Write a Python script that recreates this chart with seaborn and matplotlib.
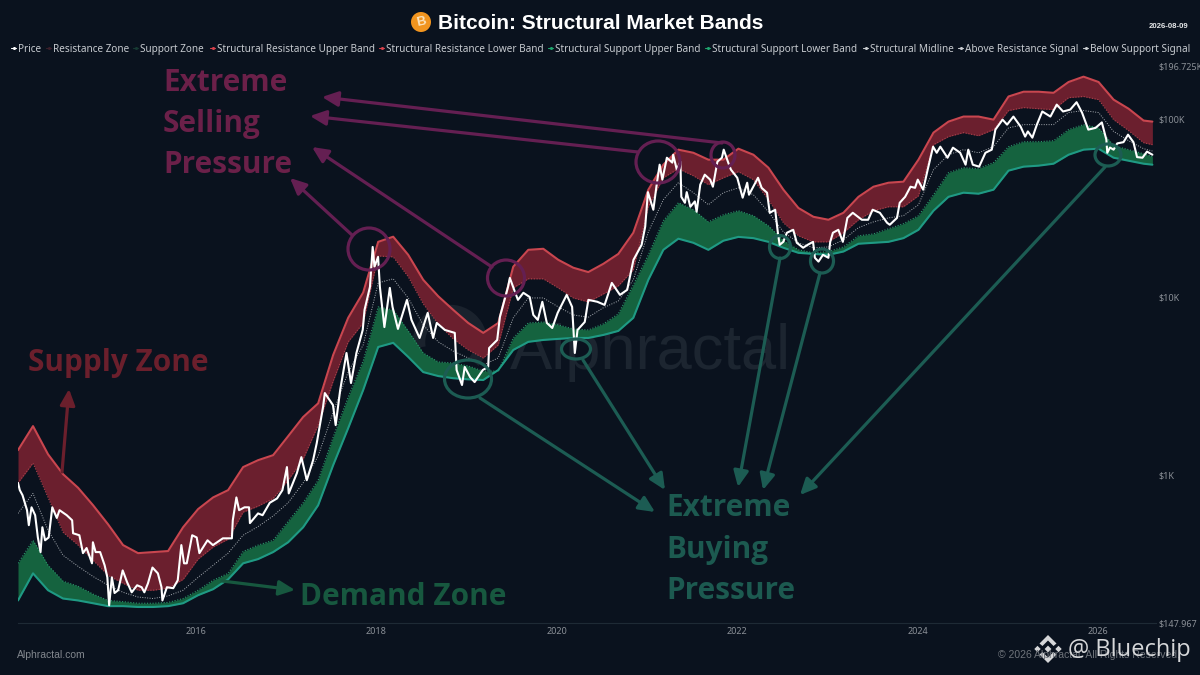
import matplotlib
matplotlib.use('Agg')
import matplotlib.pyplot as plt
from matplotlib.patches import Ellipse, Polygon, Arc, Circle
import numpy as np
import seaborn as sns

# 1. Data
band_years = np.append(2014.03 + np.arange(76) * 0.1663, 2026.60)

res_upper = [1382, 1885, 1310, 1013, 850, 678, 530, 405, 365, 370,
             375, 510, 645, 750, 824, 1110, 1214, 1295, 1655, 2120,
             2530, 4727, 7640, 10600, 20400, 21800, 17250, 12490, 10100, 8466,
             7150, 6290, 7150, 14800, 18400, 18650, 16170, 14600, 13800, 15350,
             17450, 22950, 40030, 55300, 67150, 64500, 59000, 59000, 68000, 62900,
             53200, 40030, 31600, 28200, 27140, 29700, 36500, 41600, 43800, 44400,
             59000, 83700, 96500, 103000, 103000, 99000, 133500, 142000, 142000, 140000,
             161000, 172500, 161000, 128200, 114000, 97800, 96500]

res_lower = [905, 1168, 750, 478, 405, 333, 274, 247, 226, 226,
             232, 260, 338, 395, 437, 620, 670, 740, 937, 1230,
             1910, 3370, 5600, 7150, 17000, 16800, 13000, 9150, 7060, 5820,
             5044, 4550, 5380, 11240, 12650, 12650, 11240, 9880, 9380, 10400,
             11550, 14200, 32100, 46700, 52500, 47900, 42700, 46700, 50500, 45570,
             35160, 26100, 22050, 20400, 20400, 22950, 27140, 30500, 32100, 32100,
             37000, 71600, 79500, 83700, 80400, 87000, 111300, 115700, 114000, 112700,
             131500, 133500, 128200, 99000, 85900, 73500, 71600]

sup_upper = [320, 431, 312, 254, 238, 215, 198, 195, 191, 191,
             193, 203, 226, 257, 281, 373, 405, 431, 550, 700,
             937, 1635, 2740, 4375, 8800, 8466, 6450, 4850, 4320, 4260,
             4100, 3840, 3840, 5890, 7150, 7240, 6971, 6620, 6534, 7060,
             8040, 11700, 17250, 26800, 33800, 30890, 26400, 28950, 30500, 28600,
             25100, 20700, 18400, 17700, 18000, 19100, 22050, 22600, 24150, 25800,
             28600, 37500, 49900, 53200, 52500, 56800, 69800, 74400, 74400, 75400,
             87000, 92800, 89000, 70700, 67150, 63700, 61300]

sup_lower = [198, 281, 226, 203, 198, 191, 184, 184, 182, 182,
             184, 191, 212, 229, 260, 320, 338, 370, 420, 510,
             678, 1138, 1835, 3005, 5240, 5530, 4610, 3790, 3600, 3500,
             3450, 3420, 3893, 5044, 5600, 5741, 5820, 5890, 5890, 6124,
             6450, 7640, 12490, 18400, 21250, 20150, 18400, 20700, 21750, 21400,
             20400, 18900, 17700, 17450, 17250, 18000, 19900, 20150, 20400, 21400,
             23840, 30500, 36500, 38500, 38000, 40030, 51200, 53900, 54600, 56000,
             62900, 67150, 68000, 60500, 58200, 56000, 55300]

midline = [610, 790, 491, 355, 308, 270, 241, 220, 207, 203,
           210, 226, 267, 312, 365, 460, 515, 590, 700, 905,
           1280, 2260, 3790, 5380, 12000, 12650, 9880, 6971, 5600, 4970,
           4550, 4153, 4550, 7640, 9880, 9880, 8800, 7935, 7700, 8700,
           9500, 12490, 23200, 35160, 43800, 38500, 32950, 38500, 41000, 37500,
           30100, 23200, 20150, 18900, 19100, 20950, 24500, 26400, 27800, 28600,
           32950, 51850, 62900, 67150, 64500, 69800, 89000, 92800, 92800, 92800,
           108500, 111300, 108500, 85000, 75400, 68000, 66000]

price_years = [2014.03, 2014.05, 2014.08, 2014.13, 2014.15, 2014.18, 2014.22, 2014.25, 2014.28, 2014.30,
               2014.33, 2014.37, 2014.41, 2014.46, 2014.49, 2014.57, 2014.63, 2014.64, 2014.71, 2014.75,
               2014.79, 2014.85, 2014.86, 2014.89, 2014.94, 2014.99, 2015.02, 2015.04, 2015.07, 2015.10,
               2015.14, 2015.19, 2015.24, 2015.29, 2015.35, 2015.40, 2015.43, 2015.47, 2015.52, 2015.58,
               2015.62, 2015.63, 2015.68, 2015.75, 2015.80, 2015.84, 2015.87, 2015.90, 2015.96, 2016.01,
               2016.04, 2016.13, 2016.19, 2016.30, 2016.40, 2016.41, 2016.45, 2016.48, 2016.54, 2016.59,
               2016.60, 2016.69, 2016.74, 2016.82, 2016.90, 2016.96, 2017.01, 2017.03, 2017.12, 2017.17,
               2017.23, 2017.30, 2017.34, 2017.41, 2017.43, 2017.52, 2017.55, 2017.60, 2017.67, 2017.72,
               2017.78, 2017.85, 2017.87, 2017.93, 2017.96, 2017.98, 2018.02, 2018.04, 2018.09, 2018.15,
               2018.18, 2018.24, 2018.34, 2018.39, 2018.48, 2018.57, 2018.63, 2018.67, 2018.76, 2018.87,
               2018.89, 2018.95, 2018.98, 2019.04, 2019.09, 2019.18, 2019.24, 2019.25, 2019.34, 2019.37,
               2019.46, 2019.48, 2019.54, 2019.57, 2019.63, 2019.70, 2019.74, 2019.79, 2019.84, 2019.89,
               2019.95, 2020.01, 2020.11, 2020.17, 2020.20, 2020.23, 2020.31, 2020.35, 2020.45, 2020.53,
               2020.61, 2020.70, 2020.78, 2020.85, 2020.94, 2020.98, 2021.01, 2021.07, 2021.11, 2021.14,
               2021.17, 2021.22, 2021.28, 2021.29, 2021.33, 2021.37, 2021.38, 2021.42, 2021.44, 2021.48,
               2021.53, 2021.55, 2021.59, 2021.64, 2021.70, 2021.73, 2021.78, 2021.83, 2021.85, 2021.90,
               2021.93, 2022.00, 2022.06, 2022.11, 2022.13, 2022.20, 2022.23, 2022.27, 2022.33, 2022.36,
               2022.42, 2022.45, 2022.47, 2022.51, 2022.55, 2022.62, 2022.66, 2022.73, 2022.78, 2022.84,
               2022.85, 2022.86, 2022.90, 2022.95, 2023.01, 2023.03, 2023.06, 2023.12, 2023.17, 2023.22,
               2023.28, 2023.38, 2023.45, 2023.50, 2023.58, 2023.66, 2023.69, 2023.77, 2023.80, 2023.86,
               2023.92, 2023.97, 2024.00, 2024.06, 2024.11, 2024.17, 2024.21, 2024.25, 2024.33, 2024.39,
               2024.47, 2024.53, 2024.56, 2024.61, 2024.68, 2024.75, 2024.82, 2024.86, 2024.94, 2024.99,
               2025.06, 2025.14, 2025.19, 2025.22, 2025.27, 2025.32, 2025.38, 2025.47, 2025.54, 2025.61,
               2025.69, 2025.76, 2025.82, 2025.89, 2025.97, 2026.04, 2026.09, 2026.10, 2026.13, 2026.17,
               2026.21, 2026.28, 2026.33, 2026.39, 2026.43, 2026.49, 2026.54, 2026.60]

price = [905, 824, 772, 636, 524, 660, 596, 447, 370, 510,
         431, 447, 660, 575, 636, 596, 558, 472, 460, 365,
         390, 320, 420, 370, 370, 312, 267, 186, 267, 218,
         226, 292, 250, 220, 241, 235, 220, 247, 303, 281,
         235, 198, 235, 232, 257, 405, 320, 320, 460, 447,
         365, 431, 405, 442, 442, 558, 750, 636, 660, 660,
         538, 610, 596, 700, 740, 824, 1110, 790, 1026, 1262,
         937, 1214, 1510, 2410, 2890, 2474, 1910, 3005, 4850, 3290,
         4850, 6534, 8466, 11400, 19100, 14800, 16800, 11400, 6780, 11250,
         8800, 6620, 9640, 7438, 5890, 8150, 5890, 7150, 6534, 6290,
         3893, 3206, 4050, 3550, 3330, 3893, 4050, 5170, 5741, 7740,
         11400, 12800, 10560, 9640, 10560, 10000, 7935, 7438, 9400, 7150,
         6700, 8150, 10280, 8800, 4850, 6534, 7240, 9640, 9400, 9030,
         12000, 10280, 10970, 16170, 19630, 24850, 38800, 30890, 43800, 55300,
         45570, 60500, 56800, 62900, 51850, 57500, 36500, 33800, 38800, 32100,
         34400, 30100, 42700, 48600, 45570, 41600, 57500, 60500, 67150, 56800,
         51850, 46700, 36100, 43800, 37500, 43800, 46700, 41000, 38500, 29700,
         30890, 22950, 19630, 20400, 22950, 23840, 20150, 18900, 19630, 20400,
         18400, 16600, 15800, 17250, 16600, 20400, 22950, 23840, 20400, 27800,
         29700, 27140, 27140, 30890, 29700, 26100, 25440, 27800, 33800, 36500,
         41600, 41000, 45570, 40030, 51850, 69800, 64500, 69800, 60500, 68900,
         64500, 55300, 67150, 55300, 53900, 64500, 67150, 87000, 99000, 92800,
         103000, 90400, 79500, 85000, 78400, 92800, 110000, 103000, 120200, 110000,
         112700, 124000, 108500, 87000, 89000, 95500, 76400, 64500, 69000, 67150,
         72800, 74000, 81500, 74000, 61000, 60500, 65500, 62900]

y_ticks = [147.967, 1000, 10000, 100000, 196725]
y_tick_labels = ['$147.967', '$1K', '$10K', '$100K', '$196.725K']
x_ticks = [2016, 2018, 2020, 2022, 2024, 2026]

legend_labels = ['Price', 'Resistance Zone', 'Support Zone',
                 'Structural Resistance Upper Band', 'Structural Resistance Lower Band',
                 'Structural Support Upper Band', 'Structural Support Lower Band',
                 'Structural Midline', 'Above Resistance Signal', 'Below Support Signal']

# 2. Style
BG = '#0a121e'
RED_FILL = '#6b1f2e'
GREEN_FILL = '#15633f'
PURPLE = '#641f52'
TEAL = '#1c5c53'

sns.set_theme(style='dark', rc={'axes.facecolor': 'none', 'figure.facecolor': BG})
plt.rcParams['font.family'] = ['Noto Sans', 'DejaVu Sans']

fig = plt.figure(figsize=(12, 6.75), dpi=100, facecolor=BG)

# pixel overlays for the watermark (below) and the hand drawn notes (above)
back = fig.add_axes([0, 0, 1, 1], zorder=-1)
back.set_xlim(0, 1200)
back.set_ylim(675, 0)
back.axis('off')

ax = fig.add_axes([18 / 1200, 1 - 623 / 675, 1138 / 1200, 556.5 / 675], zorder=1)

over = fig.add_axes([0, 0, 1, 1], zorder=5)
over.set_xlim(0, 1200)
over.set_ylim(675, 0)
over.axis('off')

# watermark
back.text(510, 352, 'Alphractal', color='#1c2530', fontsize=45.5, va='center', ha='left',
          family='Liberation Sans')
back.add_patch(Arc((450, 342), 62, 62, theta1=170, theta2=400, color='#1a222d', lw=9))

# 3. Bands
ax.fill_between(band_years, res_lower, res_upper, color=RED_FILL, lw=0, zorder=2)
ax.fill_between(band_years, sup_lower, sup_upper, color=GREEN_FILL, lw=0, zorder=2)

sns.lineplot(x=band_years, y=res_upper, ax=ax, color='#c9464f', lw=1.5, estimator=None, zorder=3)
sns.lineplot(x=band_years, y=res_lower, ax=ax, color='#a8434c', lw=0.8, ls=(0, (1, 1.5)), estimator=None, zorder=3)
sns.lineplot(x=band_years, y=sup_upper, ax=ax, color='#2b9a6c', lw=0.8, ls=(0, (1, 1.5)), estimator=None, zorder=3)
sns.lineplot(x=band_years, y=sup_lower, ax=ax, color='#1f9a84', lw=1.5, estimator=None, zorder=3)
sns.lineplot(x=band_years, y=midline, ax=ax, color='#a9aeb4', lw=0.7, ls=(0, (1, 1.5)), estimator=None, zorder=3)
sns.lineplot(x=price_years, y=price, ax=ax, color='white', lw=1.5, estimator=None, sort=False, zorder=4)

# 4. Axes
ax.set_yscale('log')
ax.set_xlim(2014.03, 2026.64)
ax.set_ylim(147.967, 196725)
ax.yaxis.tick_right()
ax.set_yticks(y_ticks)
ax.set_yticklabels(y_tick_labels)
ax.minorticks_off()
ax.set_xticks(x_ticks)
ax.set_xticklabels([str(t) for t in x_ticks])
ax.tick_params(axis='both', length=0, labelsize=6.5, labelcolor='#8b9097')
ax.tick_params(axis='x', pad=3)
ax.tick_params(axis='y', pad=2)
ax.grid(False)
for side in ['left', 'top', 'right']:
    ax.spines[side].set_visible(False)
ax.spines['bottom'].set_color('#1e2a35')
ax.spines['bottom'].set_linewidth(0.8)

# 5. Title, legend row, footer
over.add_patch(Circle((421, 22), 10, color='#f2951f', lw=0))
over.text(421, 22, 'B', color='#fbe3bd', fontsize=9.5, fontweight='bold', ha='center', va='center',
          rotation=12, family='Liberation Sans')
over.text(438, 23.5, 'Bitcoin: Structural Market Bands', color='white', fontsize=15, fontweight='bold',
          ha='left', va='center', family='Liberation Sans')
over.text(1188, 27, '2026-08-09', color='#e6e8ea', fontsize=5.6, fontweight='bold', ha='right', va='center',
          family='Liberation Sans')

legend_x = [18, 53, 140, 217, 386, 555, 712, 870, 965, 1090]
legend_colors = ['white', '#3b1f2a', '#173a33', '#d8414b', '#d8414b', '#1fa56e', '#1fa56e',
                 '#c8ccd0', '#c8ccd0', '#c8ccd0']
for lx, label, col in zip(legend_x, legend_labels, legend_colors):
    over.plot([lx - 7, lx - 2], [48, 48], color=col, lw=0.8)
    over.plot([lx - 4.5], [48], marker='o', ms=2.2, color=col, mew=0)
    over.text(lx, 52, label, color='#c6cacf', fontsize=7.2, ha='left', va='baseline')

over.text(17, 655, 'Alphractal.com', color='#82878e', fontsize=7.5, ha='left', va='center',
          family='Liberation Sans')
over.text(1180, 655, '\u00a9 2026 Alphractal. All Rights Reserved.', color='#6f747b', fontsize=7.5, ha='right',
          va='center', family='Liberation Sans')

# 6. Hand drawn notes
note_font = dict(fontweight='bold', fontsize=21.4, ha='left', va='center', family='Open Sans')
for ny, word in zip([83, 124, 165], ['Extreme', 'Selling', 'Pressure']):
    over.text(163, ny, word, color='#6b2049', **note_font)
for ny, word in zip([508, 550, 591], ['Extreme', 'Buying', 'Pressure']):
    over.text(666, ny, word, color='#1c5a50', **note_font)
over.text(28, 363, 'Supply Zone', color='#6b1f2c', **note_font)
over.text(300, 597, 'Demand Zone', color='#17583f', **note_font)


def arrow(start, end, color):
    over.annotate('', xy=end, xytext=start,
                  arrowprops=dict(arrowstyle='-|>,head_length=0.6,head_width=0.28', color=color, lw=2.3,
                                  mutation_scale=16, shrinkA=0, shrinkB=0))


arrow((722, 143), (322, 97), PURPLE)
arrow((638, 152), (310, 116), PURPLE)
arrow((492, 267), (312, 147), PURPLE)
arrow((352, 235), (290, 178), PURPLE)
arrow((480, 398), (655, 512), TEAL)
arrow((583, 360), (665, 490), TEAL)
arrow((780, 258), (738, 487), TEAL)
arrow((820, 273), (763, 490), TEAL)
arrow((1105, 167), (800, 495), TEAL)
arrow((62, 472), (69, 389), '#6b1f2c')
arrow((222, 581), (295, 590), '#17583f')

for cx, cy, w, h in [(369, 249, 42, 42), (506, 278, 37, 36), (658, 162, 44, 42), (723, 155, 24, 26)]:
    over.add_patch(Ellipse((cx, cy), w, h, fill=False, ec=PURPLE, lw=2.3))
for cx, cy, w, h in [(468, 379, 47, 38), (576, 349, 29, 20), (780, 247, 21, 23), (822, 261, 23, 24), (1108, 155, 26, 22)]:
    over.add_patch(Ellipse((cx, cy), w, h, fill=False, ec=TEAL, lw=2.3))

# 7. Binance style stamp
stamp = '#d6d7d9'
sx, sy = 1048, 649
for dx, r in [(-10.5, 3.2), (0, 3.4), (10.5, 3.2)]:
    over.add_patch(Polygon([(sx + dx, sy - r), (sx + dx + r, sy), (sx + dx, sy + r), (sx + dx - r, sy)],
                           color=stamp, lw=0))
for sign in [-1, 1]:
    over.add_patch(Polygon([(sx, sy + sign * 14), (sx + 8.5, sy + sign * 5.5), (sx + 5.5, sy + sign * 3),
                            (sx, sy + sign * 8.5), (sx - 5.5, sy + sign * 3), (sx - 8.5, sy + sign * 5.5)],
                           color=stamp, lw=0))
over.text(1068, 650, '@ Bluechip', color=stamp, fontsize=17, ha='left', va='center', family='Open Sans')

fig.savefig('out.png', dpi=100, facecolor=BG)
